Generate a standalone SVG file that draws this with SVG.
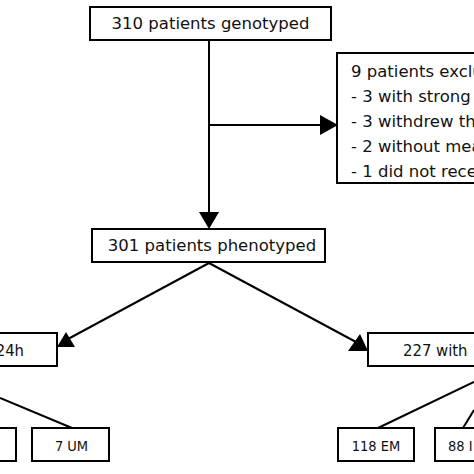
<svg xmlns="http://www.w3.org/2000/svg" width="474" height="474" viewBox="0 0 474 474">
<style>
.box{fill:#fff;stroke:#000;stroke-width:2}
.t{font-family:"DejaVu Sans",sans-serif;font-size:16.5px;fill:#111}
.c{font-family:"DejaVu Sans Condensed","DejaVu Sans",sans-serif;font-stretch:condensed;font-size:16.5px;fill:#111}
.s{font-family:"DejaVu Sans Condensed","DejaVu Sans",sans-serif;font-stretch:condensed;font-size:14.5px;fill:#111}
.ln{stroke:#000;stroke-width:2;fill:none}
.ah{fill:#000}
</style>
<rect width="474" height="474" fill="#fff"/>
<g id="connectors">
<line class="ln" x1="209" y1="40" x2="209" y2="214"/>
<line class="ln" x1="209" y1="125" x2="322" y2="125"/>
<line class="ln" x1="209" y1="263" x2="68" y2="339"/>
<line class="ln" x1="209" y1="263" x2="356" y2="342"/>
<line class="ln" x1="0" y1="398" x2="72" y2="428"/>
<line class="ln" x1="474" y1="382" x2="378" y2="428"/>
<line class="ln" x1="474" y1="410" x2="463" y2="428"/>
<polygon class="ah" points="199,212 219,212 209,229"/>
<polygon class="ah" points="320,115 320,135 338,125"/>
<polygon class="ah" points="57,347 75,347 66,332"/>
<polygon class="ah" points="348,351 368,351 360,334"/>
</g>
<g id="n-genotyped">
<rect class="box" x="90" y="7" width="241" height="33"/>
<text class="t" x="210.5" y="29" text-anchor="middle">310 patients genotyped</text>
</g>
<g id="n-excluded">
<rect class="box" x="337" y="53" width="150" height="130"/>
<text class="t" x="351" y="77">9 patients exclu</text>
<text class="t" x="351" y="102">- 3 with strong</text>
<text class="t" x="351" y="127">- 3 withdrew th</text>
<text class="t" x="351" y="152">- 2 without mea</text>
<text class="t" x="351" y="177">- 1 did not rece</text>
</g>
<g id="n-phenotyped">
<rect class="box" x="92" y="229" width="233" height="33"/>
<text class="t" x="212" y="251" text-anchor="middle">301 patients phenotyped</text>
</g>
<g id="n-left">
<rect class="box" x="-10" y="333" width="67" height="33"/>
<text class="c" x="24" y="356" text-anchor="end">24h</text>
</g>
<g id="n-right">
<rect class="box" x="368" y="333" width="120" height="33"/>
<text class="c" x="403" y="356">227 with</text>
</g>
<g id="n-leftleaf">
<rect class="box" x="-10" y="428" width="26" height="33"/>
</g>
<g id="n-um">
<rect class="box" x="32" y="428" width="77" height="33"/>
<text class="s" x="71.5" y="451" text-anchor="middle">7 UM</text>
</g>
<g id="n-em">
<rect class="box" x="338" y="428" width="76" height="33"/>
<text class="s" x="376" y="451" text-anchor="middle">118 EM</text>
</g>
<g id="n-im">
<rect class="box" x="435" y="428" width="50" height="33"/>
<text class="s" x="448" y="451">88 I</text>
</g>
</svg>
